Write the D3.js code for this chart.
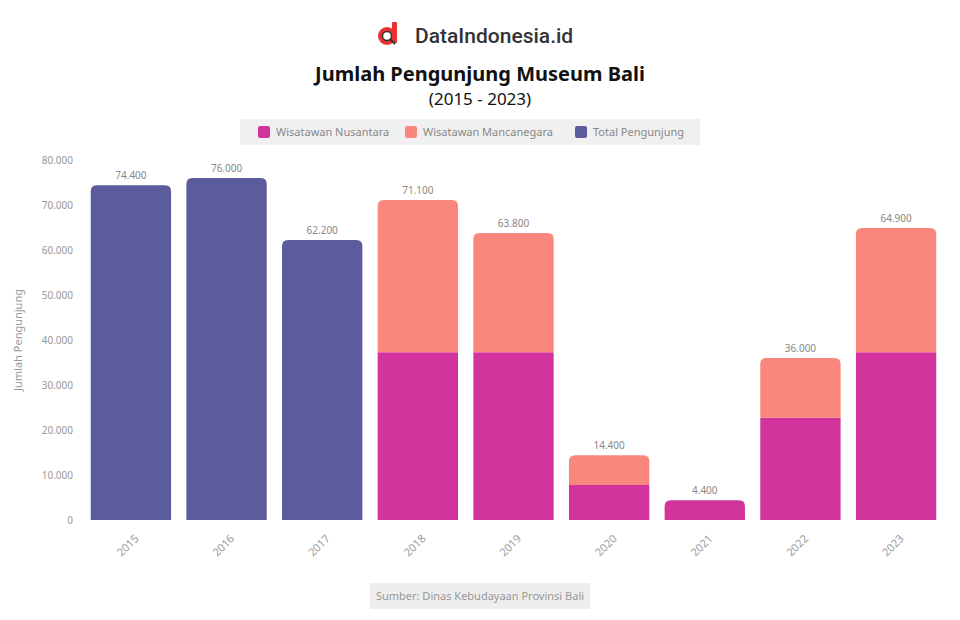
<!DOCTYPE html>
<html><head><meta charset="utf-8">
<script src="https://cdn.jsdelivr.net/npm/d3@7"></script>
<style>body{margin:0;background:#fff;font-family:"Noto Sans",sans-serif}</style>
</head><body><svg id="c" width="960" height="620"></svg>
<script>
const years = ["2015","2016","2017","2018","2019","2020","2021","2022","2023"];
const nusantara = [0,0,0,37300,37300,7800,4400,22700,37300];
const mancanegara = [0,0,0,33800,26500,6600,0,13300,27600];
const total = [74400,76000,62200,0,0,0,0,0,0];
const seriesNames = ["Wisatawan Nusantara","Wisatawan Mancanegara","Total Pengunjung"];
const yTicks = [0,10000,20000,30000,40000,50000,60000,70000,80000];
const colors = ["#d3339c","#f9877d","#5c5c9c"];

const svg = d3.select("#c");
const fmt = v => d3.format(",")(v).replace(/,/g,".");

// header
const logo = svg.append("g").attr("transform","translate(388,35)");
logo.append("circle").attr("r",9).attr("fill","#e8322f").attr("cx",-1).attr("cy",1);
logo.append("rect").attr("x",4).attr("y",-13).attr("width",5).attr("height",21).attr("rx",1).attr("fill","#e8322f");
logo.append("circle").attr("r",4.5).attr("cx",-1).attr("cy",1).attr("fill","#fff").attr("stroke","#333").attr("stroke-width",1.5);
logo.append("line").attr("x1",2).attr("y1",4).attr("x2",7).attr("y2",9).attr("stroke","#333").attr("stroke-width",2);
svg.append("text").attr("x",415).attr("y",43).attr("font-family","Roboto").attr("font-size",21).attr("font-weight",500).attr("fill","#333").text("DataIndonesia.id");
svg.append("text").attr("x",480).attr("y",81).attr("text-anchor","middle").attr("font-size",20).attr("font-weight",700).attr("fill","#111").text("Jumlah Pengunjung Museum Bali");
svg.append("text").attr("x",480).attr("y",105).attr("text-anchor","middle").attr("font-size",17).attr("fill","#111").text("(2015 - 2023)");

// legend
svg.append("rect").attr("x",240).attr("y",119).attr("width",460).attr("height",26).attr("fill","#f0f0f0");
const legX = [258,405,575];
seriesNames.forEach((n,i)=>{
  svg.append("rect").attr("x",legX[i]).attr("y",126).attr("width",12).attr("height",12).attr("rx",2).attr("fill",colors[i]);
  svg.append("text").attr("x",legX[i]+18).attr("y",136).attr("font-size",11).attr("fill","#888").text(n);
});

const m = {l:85,r:942,t:160,b:520};
const x = d3.scaleBand().domain(years).range([m.l,m.r]).paddingInner(0.16).paddingOuter(0.06);
const y = d3.scaleLinear().domain([0,80000]).range([m.b,m.t]);

// y axis
const ya = svg.append("g").attr("transform",`translate(${m.l-8},0)`)
  .call(d3.axisLeft(y).tickValues(yTicks).tickFormat(fmt).tickSize(0).tickPadding(4));
ya.select(".domain").remove();
ya.selectAll("text").attr("font-size",10).attr("fill","#999").attr("font-family","Noto Sans");
svg.append("text").attr("transform","translate(22,340) rotate(-90)").attr("text-anchor","middle").attr("font-size",11).attr("fill","#999").text("Jumlah Pengunjung");

// x axis
const xa = svg.append("g").attr("transform",`translate(0,${m.b+8})`).call(d3.axisBottom(x).tickSize(0).tickPadding(6));
xa.select(".domain").remove();
xa.selectAll("text").attr("font-size",11).attr("fill","#999").attr("font-family","Noto Sans")
  .attr("text-anchor","end").attr("transform","rotate(-45)").attr("dx","-2").attr("dy","8");

// bars
const stack = [nusantara, mancanegara, total];
years.forEach((yr,i)=>{
  let base = 0;
  const segs = [];
  stack.forEach((s,k)=>{ if(s[i]>0){ segs.push({k, y0:base, y1:base+s[i]}); base+=s[i]; } });
  segs.forEach((sg,j)=>{
    const top = j===segs.length-1;
    const r = 6;
    const x0 = x(yr), w = x.bandwidth();
    const yt = y(sg.y1), yb = y(sg.y0);
    const rr = Math.min(r,(yb-yt)/2);
    let p;
    if(top){
      p = `M${x0},${yb} L${x0},${yt+rr} Q${x0},${yt} ${x0+rr},${yt} L${x0+w-rr},${yt} Q${x0+w},${yt} ${x0+w},${yt+rr} L${x0+w},${yb} Z`;
    } else {
      p = `M${x0},${yb} L${x0},${yt} L${x0+w},${yt} L${x0+w},${yb} Z`;
    }
    svg.append("path").attr("d",p).attr("fill",colors[sg.k]);
  });
  svg.append("text").attr("x",x(yr)+x.bandwidth()/2).attr("y",y(base)-6).attr("text-anchor","middle")
    .attr("font-size",10).attr("fill","#888").text(fmt(base));
});

// source
svg.append("rect").attr("x",370).attr("y",583).attr("width",220).attr("height",26).attr("fill","#eeeeee");
svg.append("text").attr("x",480).attr("y",600).attr("text-anchor","middle").attr("font-size",11).attr("fill","#999").text("Sumber: Dinas Kebudayaan Provinsi Bali");
</script></body></html>
